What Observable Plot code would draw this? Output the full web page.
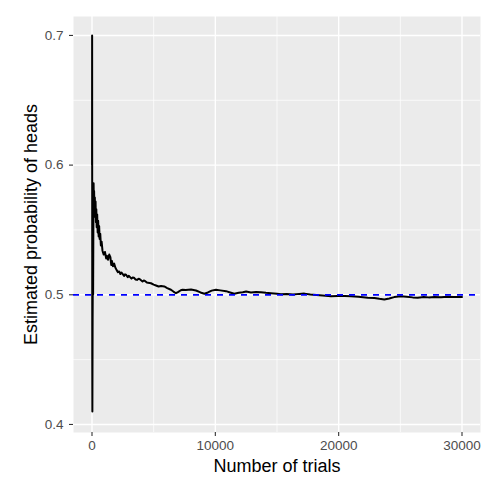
<!DOCTYPE html>
<html>
<head>
<meta charset="utf-8">
<script src="https://cdn.jsdelivr.net/npm/d3@7"></script>
<script src="https://cdn.jsdelivr.net/npm/@observablehq/plot@0.6"></script>
<style>
  html, body { margin: 0; padding: 0; background: white; }
</style>
</head>
<body>
<div id="chart"></div>
<script>
// Running estimate of P(heads)
const trials = [5, 10, 20, 30, 50, 70, 90, 110, 130, 150, 170, 200, 230, 260, 290, 320, 350, 380, 420, 460, 500, 540, 580, 620, 670, 720, 780, 850, 950, 1050, 1150, 1220, 1300, 1400, 1490, 1560, 1620, 1700, 1800, 1890, 2000, 2100, 2200, 2300, 2380, 2450, 2600, 2680, 2750, 2900, 2980, 3050, 3200, 3300, 3400, 3520, 3650, 3780, 3900, 4100, 4200, 4320, 4450, 4550, 4780, 5000, 5190, 5400, 5600, 5860, 6100, 6400, 6600, 6810, 7000, 7200, 7350, 7600, 8030, 8430, 8800, 9110, 9400, 9700, 10050, 10400, 10870, 11200, 11540, 11900, 12220, 12500, 12890, 13300, 13700, 14100, 14510, 15000, 15320, 15800, 16300, 16800, 17220, 17700, 18200, 18700, 19380, 19900, 20500, 21000, 21600, 22360, 22900, 23300, 23700, 24100, 24500, 25050, 25500, 26000, 26410, 26900, 27300, 27760, 28300, 28800, 29300, 30000];
const props = [0.6, 0.7, 0.45, 0.41, 0.48, 0.52, 0.5, 0.55, 0.586, 0.57, 0.58, 0.565, 0.575, 0.56, 0.572, 0.556, 0.566, 0.552, 0.562, 0.548, 0.557, 0.545, 0.553, 0.543, 0.547, 0.538, 0.541, 0.534, 0.531, 0.533, 0.528, 0.53, 0.527, 0.531, 0.529, 0.523, 0.526, 0.522, 0.524, 0.521, 0.519, 0.5175, 0.518, 0.516, 0.5172, 0.5165, 0.5145, 0.5158, 0.5155, 0.5135, 0.5146, 0.514, 0.5125, 0.5134, 0.5132, 0.5118, 0.5115, 0.5124, 0.5118, 0.5102, 0.511, 0.5105, 0.5094, 0.5092, 0.5089, 0.5078, 0.5072, 0.5064, 0.5068, 0.5064, 0.5052, 0.5039, 0.5025, 0.5012, 0.5022, 0.5035, 0.5039, 0.5036, 0.5041, 0.5033, 0.5018, 0.5008, 0.5018, 0.5032, 0.5039, 0.5034, 0.5028, 0.5018, 0.5008, 0.5016, 0.502, 0.5025, 0.5018, 0.5022, 0.502, 0.5015, 0.5012, 0.5008, 0.5004, 0.5006, 0.5003, 0.5007, 0.5009, 0.5003, 0.4998, 0.4994, 0.4988, 0.4991, 0.499, 0.4988, 0.4985, 0.4978, 0.4976, 0.4969, 0.4963, 0.4972, 0.4982, 0.4988, 0.4984, 0.498, 0.4978, 0.4983, 0.498, 0.4983, 0.4981, 0.4985, 0.4982, 0.4983];
const xTicks = [0, 10000, 20000, 30000];
const xMinor = [5000, 15000, 25000];
const yTicks = [0.4, 0.5, 0.6, 0.7];
const yMinor = [0.45, 0.55, 0.65];
const trueProb = [0.5];
const xTitle = "Number of trials";
const yTitle = "Estimated probability of heads";

const data = trials.map((t, i) => ({trial: t, p: props[i]}));

const chart = Plot.plot({
  width: 498,
  height: 478,
  marginLeft: 73,
  marginRight: 18,
  marginTop: 16,
  marginBottom: 46,
  style: {fontFamily: "'Liberation Sans', Arial, Helvetica, sans-serif", background: "white"},
  x: {domain: [-1500, 31500]},
  y: {domain: [0.3938, 0.7146]},
  marks: [
    Plot.frame({fill: "#EBEBEB", stroke: null}),
    Plot.ruleX(xMinor, {stroke: "white", strokeWidth: 0.7}),
    Plot.ruleY(yMinor, {stroke: "white", strokeWidth: 0.7}),
    Plot.ruleX(xTicks, {stroke: "white", strokeWidth: 1.4}),
    Plot.ruleY(yTicks, {stroke: "white", strokeWidth: 1.4}),
    Plot.line(data, {x: "trial", y: "p", stroke: "black", strokeWidth: 2}),
    Plot.ruleY(trueProb, {stroke: "#0000FF", strokeWidth: 1.8, strokeDasharray: "6,6"}),
    Plot.axisX(xTicks, {tickSize: 4, tickPadding: 4, tickFormat: d3.format("d"), fontSize: 13.5, fill: "#4D4D4D", stroke: "#333333", strokeWidth: 1.1, label: null}),
    Plot.axisY(yTicks, {tickSize: 4, tickPadding: 6, tickFormat: d3.format(".1f"), fontSize: 13.5, fill: "#4D4D4D", stroke: "#333333", strokeWidth: 1.1, label: null}),
    Plot.text([xTitle], {frameAnchor: "bottom", textAnchor: "middle", lineAnchor: "bottom", dy: 39.5, fontSize: 18, fill: "black", text: d => d}),
    Plot.text([yTitle], {frameAnchor: "left", textAnchor: "middle", lineAnchor: "bottom", rotate: -90, dx: -37, fontSize: 18, fill: "black", text: d => d})
  ]
});
document.getElementById("chart").appendChild(chart);
</script>
</body>
</html>
